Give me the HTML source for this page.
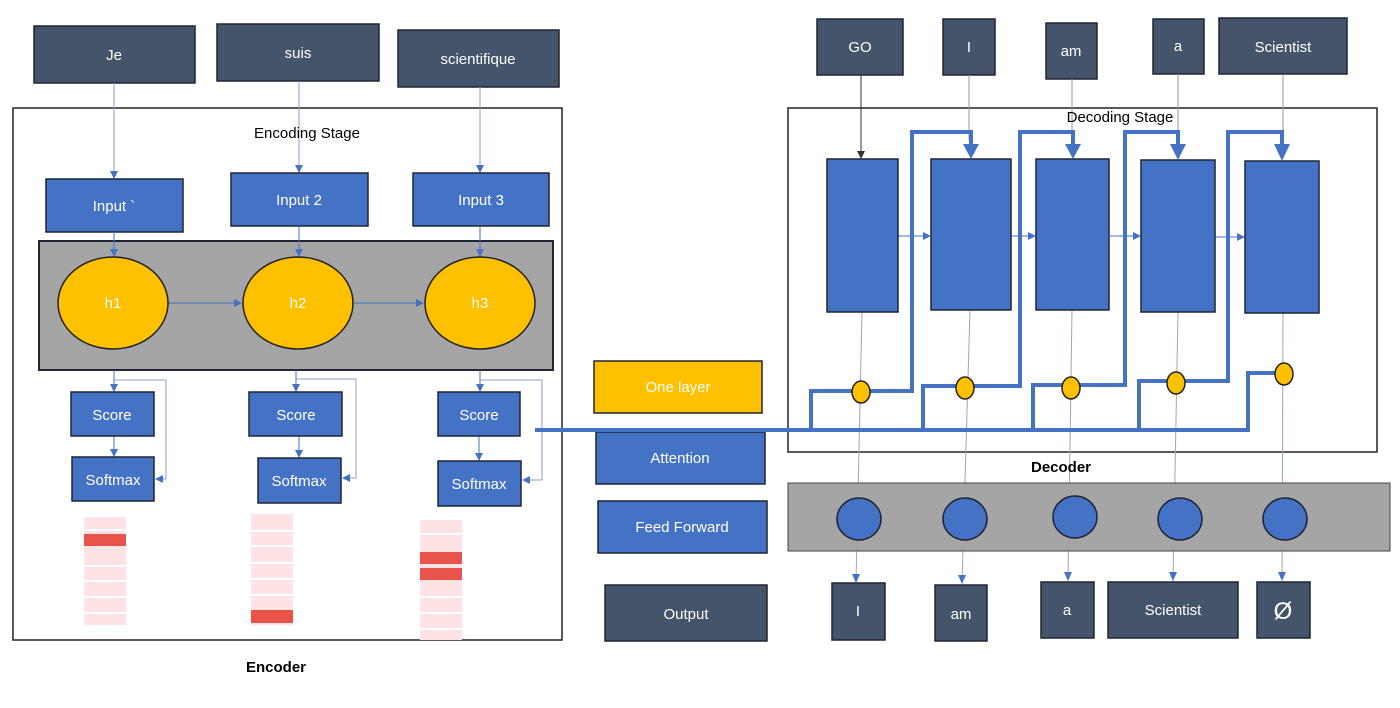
<!DOCTYPE html>
<html><head><meta charset="utf-8"><style>
html,body{margin:0;padding:0;background:#fff;}
svg{display:block;font-family:"Liberation Sans",sans-serif;}
</style></head><body>
<svg width="1400" height="708" viewBox="0 0 1400 708" xmlns="http://www.w3.org/2000/svg">
<defs>
<marker id="a" markerWidth="8" markerHeight="8" refX="7" refY="4" orient="auto" markerUnits="userSpaceOnUse"><path d="M0,0L8,4L0,8z" fill="#4472C4"/></marker>
<marker id="ad" markerWidth="8" markerHeight="8" refX="7" refY="4" orient="auto" markerUnits="userSpaceOnUse"><path d="M0,0L8,4L0,8z" fill="#333"/></marker>
<marker id="ab" markerWidth="14" markerHeight="14" refX="12" refY="7" orient="auto" markerUnits="userSpaceOnUse"><path d="M0,0L14,7L0,14z" fill="#4472C4"/></marker>
</defs>
<g stroke="#1f2535" stroke-width="1.5">
<!-- encoder frame -->
<rect x="13" y="108" width="549" height="532" fill="none" stroke="#222"/>
<!-- top words -->
<rect x="34" y="26" width="161" height="57" fill="#44546A"/>
<rect x="217" y="24" width="162" height="57" fill="#44546A"/>
<rect x="398" y="30" width="161" height="57" fill="#44546A"/>
</g>
<g stroke="#8ea0c8" stroke-width="1" fill="none">
<line x1="114" y1="83" x2="114" y2="178" marker-end="url(#a)"/>
<line x1="299" y1="81" x2="299" y2="172" marker-end="url(#a)"/>
<line x1="480" y1="87" x2="480" y2="172" marker-end="url(#a)"/>
</g>
<g stroke="#1f2535" stroke-width="1.5" fill="#4472C4">
<rect x="46" y="179" width="137" height="53"/>
<rect x="231" y="173" width="137" height="53"/>
<rect x="413" y="173" width="136" height="53"/>
<rect x="39" y="241" width="514" height="129" fill="#A5A5A5" stroke-width="2"/>
</g>
<g stroke="#4472C4" stroke-width="1" fill="none">
<line x1="114" y1="232" x2="114" y2="256" marker-end="url(#a)"/>
<line x1="299" y1="226" x2="299" y2="256" marker-end="url(#a)"/>
<line x1="480" y1="226" x2="480" y2="256" marker-end="url(#a)"/>
<line x1="168" y1="303" x2="241" y2="303" marker-end="url(#a)"/>
<line x1="353" y1="303" x2="423" y2="303" marker-end="url(#a)"/>
</g>
<g stroke="#222" stroke-width="1.5" fill="#FFC000">
<ellipse cx="113" cy="303" rx="55" ry="46"/>
<ellipse cx="298" cy="303" rx="55" ry="46"/>
<ellipse cx="480" cy="303" rx="55" ry="46"/>
</g>
<g stroke="#4472C4" stroke-width="1" fill="none">
<line x1="114" y1="370" x2="114" y2="391" marker-end="url(#a)"/>
<polyline points="114,380 166,380 166,479 156,479" marker-end="url(#a)" stroke="#8ea0c8"/>
<line x1="296" y1="370" x2="296" y2="391" marker-end="url(#a)"/>
<polyline points="296,379 356,379 356,478 343,478" marker-end="url(#a)" stroke="#8ea0c8"/>
<line x1="480" y1="370" x2="480" y2="391" marker-end="url(#a)"/>
<polyline points="480,380 542,380 542,480 523,480" marker-end="url(#a)" stroke="#8ea0c8"/>
<line x1="114" y1="436" x2="114" y2="456" marker-end="url(#a)"/>
<line x1="299" y1="436" x2="299" y2="457" marker-end="url(#a)"/>
<line x1="479" y1="436" x2="479" y2="460" marker-end="url(#a)"/>
</g>
<g stroke="#1f2535" stroke-width="1.5" fill="#4472C4">
<rect x="71" y="392" width="83" height="44"/>
<rect x="249" y="392" width="93" height="44"/>
<rect x="438" y="392" width="82" height="44"/>
<rect x="72" y="457" width="82" height="44"/>
<rect x="258" y="458" width="83" height="45"/>
<rect x="438" y="461" width="83" height="45"/>
</g>
<!-- heatmaps -->
<g fill="#fde3e3">
<rect x="84" y="517" width="42" height="108"/>
<rect x="251" y="514" width="42" height="111"/>
<rect x="420" y="520" width="42" height="120"/>
</g>
<g fill="#e8534a">
<rect x="84" y="534" width="42" height="12"/>
<rect x="251" y="610" width="42" height="13"/>
<rect x="420" y="552" width="42" height="12"/>
<rect x="420" y="568" width="42" height="12"/>
</g>
<g fill="#fff">
<rect x="84" y="529" width="42" height="2"/><rect x="84" y="565" width="42" height="2"/><rect x="84" y="580" width="42" height="2"/><rect x="84" y="596" width="42" height="2"/><rect x="84" y="612" width="42" height="2"/>
<rect x="251" y="530" width="42" height="2"/><rect x="251" y="545" width="42" height="2"/><rect x="251" y="562" width="42" height="2"/><rect x="251" y="578" width="42" height="2"/><rect x="251" y="594" width="42" height="2"/>
<rect x="420" y="533" width="42" height="2"/><rect x="420" y="596" width="42" height="2"/><rect x="420" y="612" width="42" height="2"/><rect x="420" y="628" width="42" height="2"/>
</g>
<!-- middle legend -->
<g stroke="#1f2535" stroke-width="1.5">
<rect x="594" y="361" width="168" height="52" fill="#FFC000"/>
<rect x="596" y="432" width="169" height="52" fill="#4472C4"/>
<rect x="598" y="501" width="169" height="52" fill="#4472C4"/>
<rect x="605" y="585" width="162" height="56" fill="#44546A"/>
</g>
<!-- decoder frame -->
<rect x="788" y="108" width="589" height="344" fill="none" stroke="#222" stroke-width="1.5"/>
<g stroke="#1f2535" stroke-width="1.5" fill="#44546A">
<rect x="817" y="19" width="86" height="56"/>
<rect x="943" y="19" width="52" height="56"/>
<rect x="1046" y="23" width="51" height="56"/>
<rect x="1153" y="19" width="51" height="55"/>
<rect x="1219" y="18" width="128" height="56"/>
</g>
<g stroke="#999" stroke-width="1" fill="none">
<line x1="861" y1="75" x2="861" y2="158" stroke="#333" marker-end="url(#ad)"/>
<line x1="969" y1="75" x2="969" y2="140"/>
<line x1="1072" y1="79" x2="1072" y2="140"/>
<line x1="1178" y1="74" x2="1178" y2="140"/>
<line x1="1283" y1="74" x2="1283" y2="140"/>
<line x1="862" y1="312" x2="856" y2="582" stroke="#9aa"/>
<line x1="970" y1="310" x2="962" y2="584" stroke="#9aa"/>
<line x1="1072" y1="310" x2="1068" y2="581" stroke="#9aa"/>
<line x1="1178" y1="312" x2="1173" y2="581" stroke="#9aa"/>
<line x1="1283" y1="313" x2="1282" y2="581" stroke="#9aa"/>
</g>
<g stroke="#4472C4" stroke-width="1" fill="none">
<line x1="898" y1="236" x2="930" y2="236" marker-end="url(#a)"/>
<line x1="1011" y1="236" x2="1035" y2="236" marker-end="url(#a)"/>
<line x1="1110" y1="236" x2="1140" y2="236" marker-end="url(#a)"/>
<line x1="1215" y1="237" x2="1244" y2="237" marker-end="url(#a)"/>
</g>
<g stroke="#1f2535" stroke-width="1.5" fill="#4472C4">
<rect x="827" y="159" width="71" height="153"/>
<rect x="931" y="159" width="80" height="151"/>
<rect x="1036" y="159" width="73" height="151"/>
<rect x="1141" y="160" width="74" height="152"/>
<rect x="1245" y="161" width="74" height="152"/>
</g>
<!-- thick attention lines -->
<g stroke="#4472C4" stroke-width="4" fill="none" stroke-linejoin="miter">
<polyline points="535,430 1248,430 1248,373 1284,373"/>
<polyline points="811,430 811,391 912,391 912,132 971,132 971,146" />
<polyline points="923,430 923,386 1020,386 1020,132 1073,132 1073,146"/>
<polyline points="1033,430 1033,385 1125,385 1125,132 1178,132 1178,146"/>
<polyline points="1139,430 1139,381 1228,381 1228,132 1282,132 1282,146"/>
</g>
<g fill="#4472C4">
<path d="M963,144L979,144L971,159z"/>
<path d="M1065,144L1081,144L1073,159z"/>
<path d="M1170,144L1186,144L1178,160z"/>
<path d="M1274,144L1290,144L1282,161z"/>
</g>
<g stroke="#222" stroke-width="1.5" fill="#FFC000">
<ellipse cx="861" cy="392" rx="9" ry="11"/>
<ellipse cx="965" cy="388" rx="9" ry="11"/>
<ellipse cx="1071" cy="388" rx="9" ry="11"/>
<ellipse cx="1176" cy="383" rx="9" ry="11"/>
<ellipse cx="1284" cy="374" rx="9" ry="11"/>
</g>
<!-- decoder bottom -->
<rect x="788" y="483" width="602" height="68" fill="#A5A5A5" stroke="#444" stroke-width="1"/>
<g stroke="#1f2535" stroke-width="1.5" fill="#4472C4">
<ellipse cx="859" cy="519" rx="22" ry="21"/>
<ellipse cx="965" cy="519" rx="22" ry="21"/>
<ellipse cx="1075" cy="517" rx="22" ry="21"/>
<ellipse cx="1180" cy="519" rx="22" ry="21"/>
<ellipse cx="1285" cy="519" rx="22" ry="21"/>
</g>
<g fill="#4472C4">
<path d="M852,574L860,574L856,583z"/><path d="M958,575L966,575L962,584z"/><path d="M1064,572L1072,572L1068,581z"/><path d="M1169,572L1177,572L1173,581z"/><path d="M1278,572L1286,572L1282,581z"/>
</g>
<g stroke="#1f2535" stroke-width="1.5" fill="#44546A">
<rect x="832" y="583" width="53" height="57"/>
<rect x="935" y="585" width="52" height="56"/>
<rect x="1041" y="582" width="53" height="56"/>
<rect x="1108" y="582" width="130" height="56"/>
<rect x="1257" y="582" width="53" height="56"/>
</g>
<!-- text -->
<g fill="#fff" font-size="15" text-anchor="middle">
<text x="114" y="60">Je</text>
<text x="298" y="58">suis</text>
<text x="478" y="64">scientifique</text>
<text x="114" y="211">Input `</text>
<text x="299" y="205">Input 2</text>
<text x="481" y="205">Input 3</text>
<text x="113" y="308" fill="#fff">h1</text>
<text x="298" y="308">h2</text>
<text x="480" y="308">h3</text>
<text x="112" y="420">Score</text>
<text x="296" y="420">Score</text>
<text x="479" y="420">Score</text>
<text x="113" y="485">Softmax</text>
<text x="299" y="486">Softmax</text>
<text x="479" y="489">Softmax</text>
<text x="678" y="392">One layer</text>
<text x="680" y="463">Attention</text>
<text x="682" y="532">Feed Forward</text>
<text x="686" y="619">Output</text>
<text x="860" y="52">GO</text>
<text x="969" y="52">I</text>
<text x="1071" y="56">am</text>
<text x="1178" y="51">a</text>
<text x="1283" y="52">Scientist</text>
<text x="858" y="616">I</text>
<text x="961" y="619">am</text>
<text x="1067" y="615">a</text>
<text x="1173" y="615">Scientist</text>
<text x="1283" y="619" font-size="24">Ø</text>
</g>
<g fill="#000" font-size="15" text-anchor="middle">
<text x="307" y="138">Encoding Stage</text>
<text x="1120" y="122">Decoding Stage</text>
<text x="276" y="672" font-weight="bold">Encoder</text>
<text x="1061" y="472" font-weight="bold">Decoder</text>
</g>
</svg>
</body></html>
